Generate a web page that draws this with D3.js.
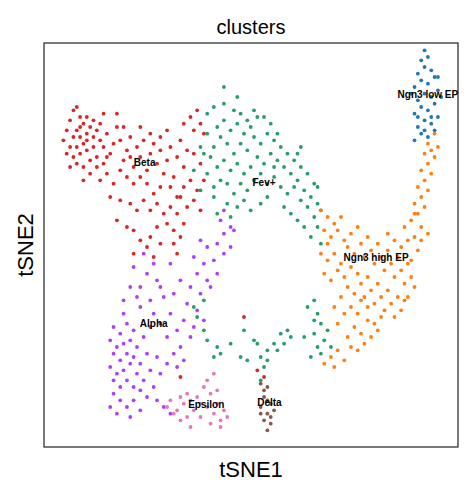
<!DOCTYPE html>
<html><head><meta charset="utf-8">
<script src="https://cdn.jsdelivr.net/npm/d3@7"></script>
<style>body{margin:0;background:#fff}text{font-family:"Liberation Sans",Arial,sans-serif}</style>
</head><body>
<svg id="graph" width="474" height="492"></svg>
<script>
// Cluster points (tSNE units, y up)
var beta = [[7,92],[8,95],[9,98],[10,101],[11,102],[12,99],[13,97],[9,90],[10,93],[11,95],[12,93],[13,91],[14,94],[15,96],[16,98],[17,95],[18,92],[19,90],[8,88],[10,87],[12,88],[14,89],[16,90],[11,85],[13,84],[15,86],[17,87],[19,85],[21,88],[20,94],[22,91],[23,96],[24,92],[26,89],[25,86],[27,93],[29,90],[30,87],[28,84],[31,92],[33,88],[35,85],[32,83],[34,91],[36,89],[38,86],[37,82],[39,90],[41,87],[43,84],[40,81],[42,92],[44,89],[46,95],[45,99],[47,101],[48,97],[49,94],[46,88],[48,85],[43,78],[45,80],[47,77],[41,75],[39,78],[36,78],[34,76],[32,79],[30,81],[28,79],[26,81],[24,83],[22,79],[20,82],[18,80],[21,75],[24,74],[27,73],[29,71],[31,74],[33,71],[35,73],[37,70],[39,72],[41,70],[44,72],[46,74],[48,71],[43,67],[40,65],[38,67],[35,66],[33,63],[30,62],[28,65],[32,60],[36,61],[40,61],[42,63],[28,58],[34,57],[23,68],[26,66],[41,58],[15,82],[17,84],[13,80],[9,84],[19,100],[23,100],[30,96],[33,94],[38,95],[43,97],[11,90],[14,92],[16,93],[12,96],[14,99],[18,97],[25,96],[20,87],[27,87],[36,93],[49,80],[42,75],[61,39],[65,23],[67,21],[42,21]];
var fev = [[50,100],[52,102],[55,103],[58,101],[60,100],[62,98],[55,98],[53,96],[57,95],[59,97],[61,94],[63,96],[65,99],[64,93],[66,91],[68,94],[70,92],[72,90],[74,88],[71,86],[73,84],[76,86],[78,84],[77,80],[80,82],[82,79],[79,77],[81,75],[83,73],[84,71],[78,74],[80,72],[82,69],[83,66],[81,63],[84,61],[76,78],[75,82],[69,88],[67,85],[65,87],[62,89],[60,91],[58,88],[56,91],[54,93],[52,90],[51,87],[53,84],[55,86],[57,83],[59,85],[61,82],[63,84],[64,80],[62,77],[60,79],[58,76],[56,79],[54,80],[52,78],[50,82],[49,88],[50,94],[48,90],[66,82],[68,79],[70,81],[72,78],[74,76],[73,72],[75,70],[77,68],[79,66],[68,75],[56,73],[59,72],[53,70],[57,69],[61,74],[63,71],[66,73],[70,84],[71,94],[69,97],[67,99],[64,101],[46,83],[48,77],[52,75],[78,90],[77,88],[83,78],[55,108],[59,105],[82,44],[83,40],[84,37],[82,34],[85,32],[83,30],[81,27],[84,28],[86,35],[80,42],[82,38],[72,34],[73,31],[74,35],[71,29],[75,33],[70,31],[68,29],[66,27],[67,24],[66,20],[68,26],[65,31],[53,30],[52,27],[50,32],[49,35],[54,28],[57,31],[47,39],[49,44],[46,42],[64,32],[60,27],[62,26],[61,35],[79,33],[87,30]];
var ngn3High = [[84,71],[86,69],[88,67],[90,69],[85,65],[87,63],[89,65],[91,62],[93,64],[95,66],[92,60],[94,58],[96,61],[98,63],[97,57],[99,59],[101,61],[100,55],[102,57],[104,59],[103,53],[105,55],[107,57],[106,51],[108,53],[110,55],[109,49],[111,51],[84,58],[86,56],[88,58],[90,55],[85,52],[87,50],[89,53],[91,51],[93,54],[95,52],[92,48],[94,46],[96,49],[98,51],[97,45],[99,47],[101,49],[100,43],[102,45],[104,47],[103,41],[105,43],[107,45],[106,39],[108,41],[90,45],[88,42],[91,40],[93,42],[95,40],[94,36],[96,34],[98,38],[100,37],[97,31],[99,33],[101,35],[95,29],[92,33],[89,37],[87,27],[89,29],[91,26],[93,30],[85,25],[88,24],[110,45],[112,48],[111,56],[113,59],[108,60],[110,62],[112,63],[114,66],[111,68],[113,70],[115,72],[112,73],[114,75],[116,77],[113,78],[115,80],[117,82],[114,83],[116,85],[118,87],[115,88],[117,89],[119,90],[116,91],[118,94],[114,62],[116,64],[109,66],[112,70],[106,62],[104,64],[86,61],[98,42],[96,44],[102,39],[109,44]];
var ngn3Low = [[112,92],[114,94],[116,93],[118,95],[113,96],[115,98],[117,97],[119,99],[112,100],[114,102],[116,101],[118,103],[113,104],[115,106],[117,105],[119,107],[112,108],[114,110],[116,109],[118,111],[113,112],[115,114],[117,113],[119,111],[114,116],[116,117],[115,119],[120,105],[111,106],[117,99],[115,95],[113,99]];
var alpha = [[54,68],[55,64],[57,66],[53,61],[55,58],[50,60],[48,62],[46,57],[49,55],[52,56],[47,52],[50,50],[53,52],[45,48],[48,46],[51,48],[44,43],[47,41],[43,38],[46,36],[45,33],[42,30],[40,28],[38,33],[41,35],[39,40],[37,45],[35,50],[32,52],[30,48],[28,54],[31,58],[34,55],[36,48],[33,44],[30,42],[34,40],[36,37],[29,45],[25,40],[22,36],[24,34],[26,37],[28,35],[21,32],[23,30],[25,31],[27,32],[29,30],[31,33],[33,36],[22,28],[24,26],[26,28],[28,27],[30,25],[32,28],[21,24],[23,22],[25,23],[27,25],[29,22],[31,20],[33,23],[22,20],[24,18],[26,20],[28,18],[30,17],[32,15],[22,16],[24,14],[26,12],[28,14],[30,11],[34,18],[36,22],[35,27],[38,25],[37,12],[39,10],[35,14],[21,12],[23,10],[27,9],[41,24],[43,26],[40,46],[42,50],[39,55],[55,71],[57,60],[27,48],[25,44],[49,38],[58,65]];
var epsilon = [[38,12],[40,10],[42,8],[44,9],[46,11],[48,13],[50,12],[52,10],[54,8],[53,13],[55,11],[51,16],[49,18],[47,15],[45,14],[43,13],[41,11],[50,20],[52,22],[53,17],[45,6],[54,6],[56,9],[48,9],[44,16],[42,15],[39,14],[51,7]];
var delta = [[66,19],[68,18],[67,15],[69,13],[66,12],[68,10],[67,8],[69,7],[68,5],[66,10],[70,11],[67,17],[68,14],[69,9]];

var clusterNames = ["Alpha", "Beta", "Delta", "Epsilon", "Fev+", "Ngn3 high EP", "Ngn3 low EP"];
var clusterPoints = [alpha, beta, delta, epsilon, fev, ngn3High, ngn3Low];
var clusterColors = ["#aa40fc", "#d62728", "#8c564b", "#e377c2", "#279e68", "#ff7f0e", "#1f77b4"];
var labelPos = [[34,36.7], [31.3,85], [68.6,13], [49.7,12.5], [67,79], [100.5,56.5], [116,105.4]];

var svg = d3.select("#graph"),
    margin = {top: 43, right: 16, bottom: 45, left: 44},
    width = +svg.attr("width"), height = +svg.attr("height");

var x = d3.scaleLinear().domain([1.2, 125]).range([margin.left, width - margin.right]);
var y = d3.scaleLinear().domain([0, 121.2]).range([height - margin.bottom, margin.top]);

// points
clusterPoints.forEach(function(pts, i) {
    svg.append("g").selectAll("circle").data(pts).enter().append("circle")
        .attr("cx", d => x(d[0])).attr("cy", d => y(d[1]))
        .attr("r", 1.9).attr("fill", clusterColors[i]);
});

// frame
svg.append("rect").attr("x", margin.left).attr("y", margin.top)
    .attr("width", width - margin.left - margin.right)
    .attr("height", height - margin.top - margin.bottom)
    .attr("fill", "none").attr("stroke", "#222").attr("stroke-width", 1.2);

// cluster labels
clusterNames.forEach(function(n, i) {
    svg.append("text").attr("x", x(labelPos[i][0])).attr("y", y(labelPos[i][1]))
        .attr("text-anchor", "middle").attr("dominant-baseline", "middle")
        .attr("font-size", 10).attr("font-weight", "bold").text(n);
});

svg.append("text").attr("x", (margin.left + width - margin.right) / 2).attr("y", 34)
    .attr("text-anchor", "middle").attr("font-size", 20).text("clusters");
svg.append("text").attr("x", (margin.left + width - margin.right) / 2).attr("y", 477)
    .attr("text-anchor", "middle").attr("font-size", 22).text("tSNE1");
svg.append("text").attr("transform", "translate(33," + ((margin.top + height - margin.bottom) / 2) + ") rotate(-90)")
    .attr("text-anchor", "middle").attr("font-size", 22).text("tSNE2");
</script>
</body></html>
